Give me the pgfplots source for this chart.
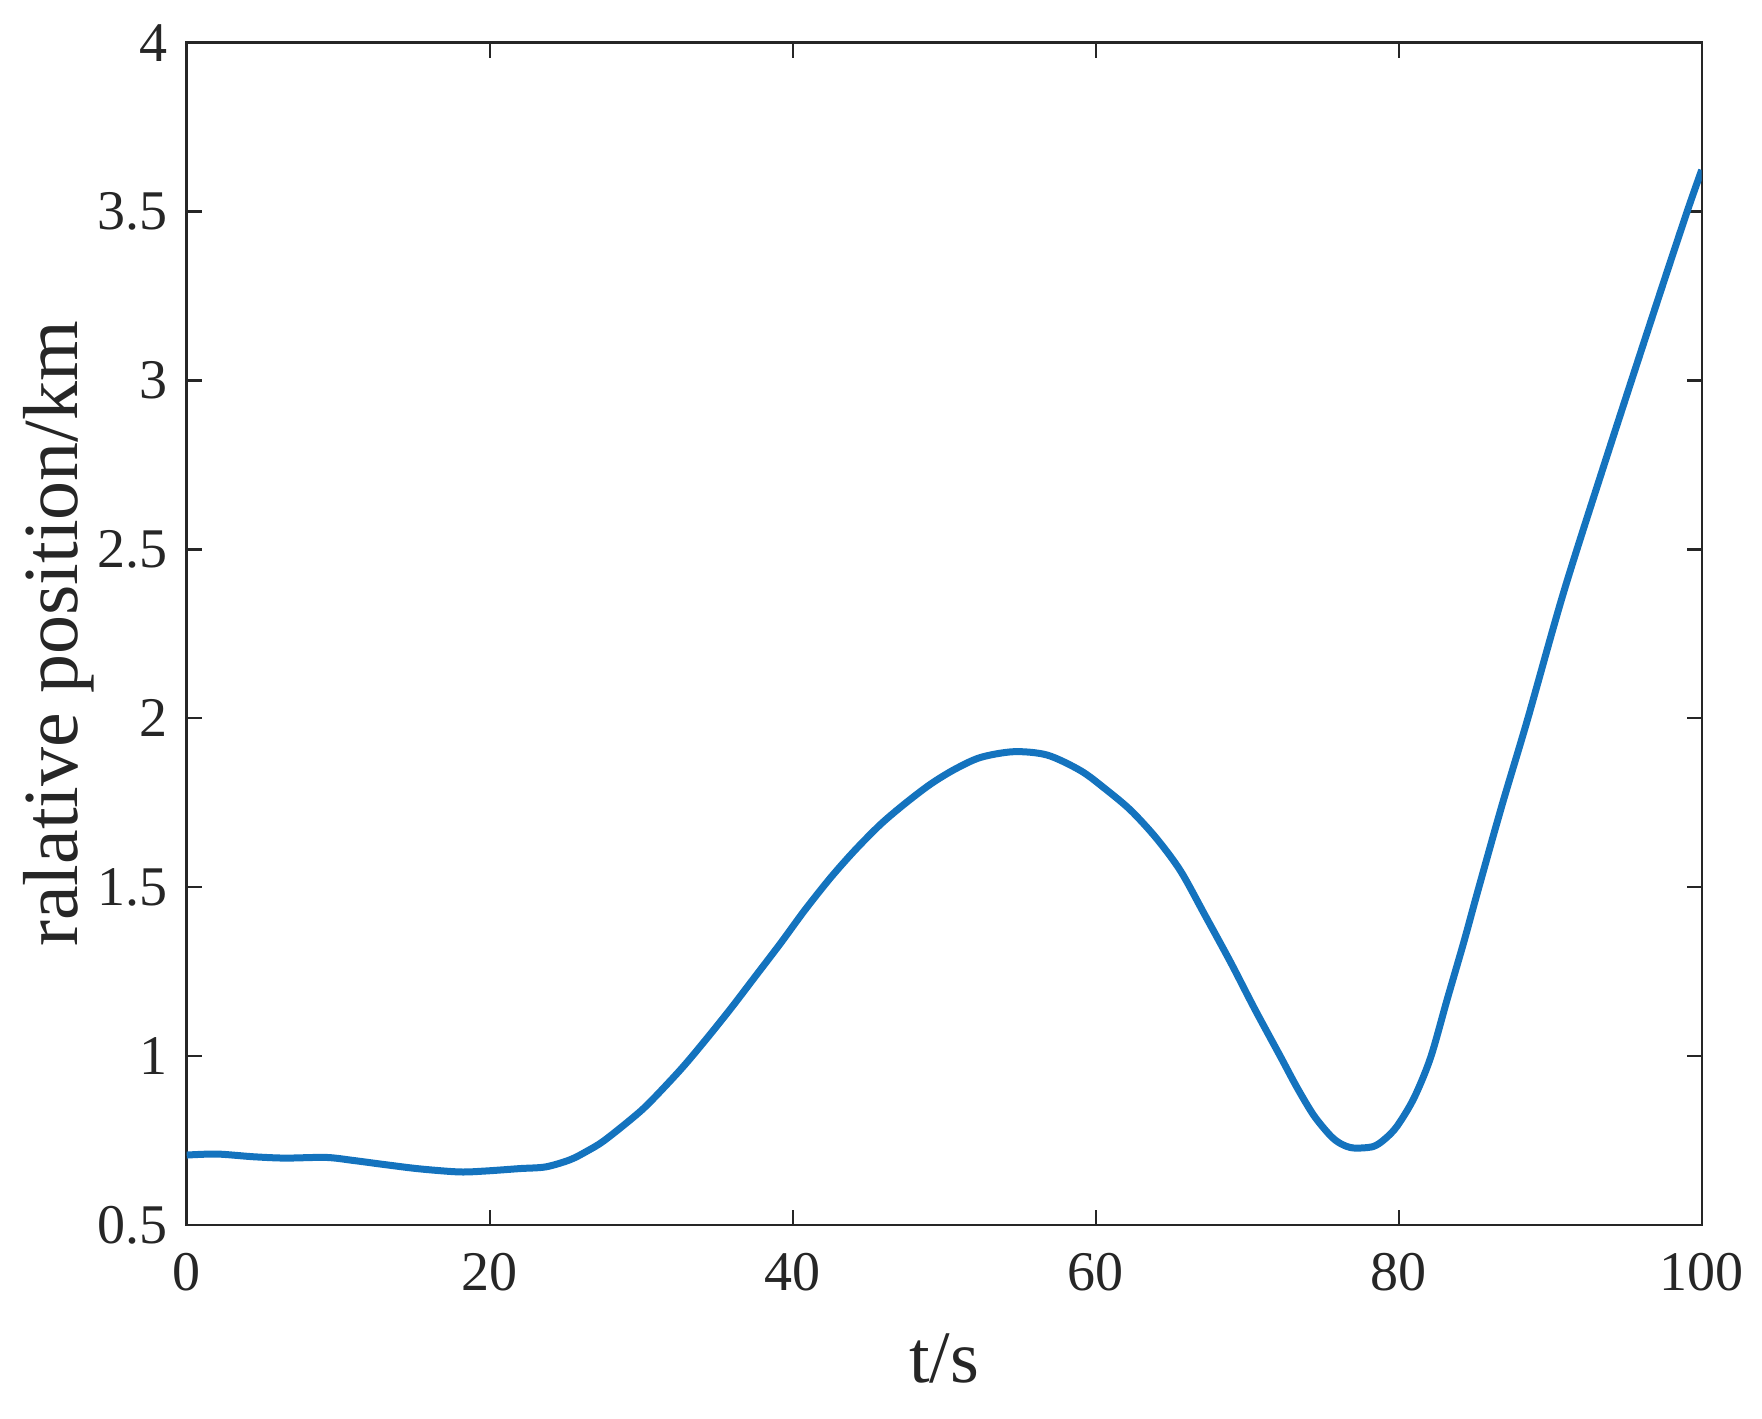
\documentclass[border=0pt]{standalone}
\usepackage{fontspec}
\setmainfont{Liberation Serif}
\usepackage{pgfplots}
\pgfplotsset{compat=1.18}
\definecolor{mblue}{RGB}{20,115,190}
\begin{document}
\begin{tikzpicture}
\begin{axis}[
  at={(0,0)}, anchor=south west,
  scale only axis,
  width=378.75pt, height=295.6pt,
  xmin=0, xmax=100, ymin=0.5, ymax=4,
  xtick={0,20,40,60,80,100},
  ytick={0.5,1,1.5,2,2.5,3,3.5,4},
  yticklabels={0.5,1,1.5,2,2.5,3,3.5,4},
  tick align=inside,
  major tick length=3.75pt,
  axis line style={line width=0.6pt, black!85},
  every tick/.style={line width=0.6pt, black!85},
  /pgf/number format/assume math mode=true,
  tick label style={font=\fontsize{14}{16}\selectfont, text=black!85},
  xticklabel style={yshift=-3.6pt},
  yticklabel style={xshift=-1.3pt},
  xlabel={t/s},
  ylabel={ralative position/km},
  xlabel style={font=\fontsize{18.5}{20}\selectfont, text=black!85, at={(axis description cs:0.5,0)}, anchor=base, yshift=-39.5pt},
  ylabel style={font=\fontsize{19.5}{22}\selectfont, text=black!85, at={(axis description cs:0,0.5)}, anchor=center, yshift=31.9pt},
]
\addplot[color=mblue, line width=1.75pt, smooth, tension=0.5] coordinates {
(0,0.707) (2,0.710) (4.4,0.702) (6.5,0.698) (9.2,0.700) (11,0.691)
(13.2,0.678) (15.4,0.666) (18,0.657) (19.8,0.660) (22,0.667) (23.7,0.672)
(25.3,0.693) (26.4,0.718) (27.5,0.748) (29.3,0.812) (30.5,0.860) (32.6,0.960)
(34.2,1.045) (35.9,1.140) (37.5,1.234) (39.2,1.334) (40.8,1.432) (42.5,1.528)
(44.1,1.609) (45.8,1.686) (47.4,1.747) (49.1,1.805) (50.7,1.849) (52.4,1.884)
(54.6,1.901) (56.8,1.891) (59,1.845) (60.6,1.792) (62.3,1.728) (64,1.645)
(65.6,1.548) (67.2,1.418) (68.9,1.278) (70.5,1.139) (72.2,0.998) (73.3,0.906)
(74.4,0.824) (75.5,0.764) (76.2,0.740) (77,0.728) (78.3,0.732) (79.1,0.755)
(79.9,0.793) (81,0.875) (82.1,0.995) (83.2,1.168) (84.3,1.338) (85.2,1.485)
(86.8,1.74) (88.5,1.996) (90.9,2.375) (93.7,2.770) (97.1,3.238) (99,3.495)
(100,3.623)
};
\end{axis}
\pgfresetboundingbox
\path[use as bounding box] (-46.675pt,-48.5pt) rectangle (393.825pt,306.25pt);
\end{tikzpicture}
\end{document}
